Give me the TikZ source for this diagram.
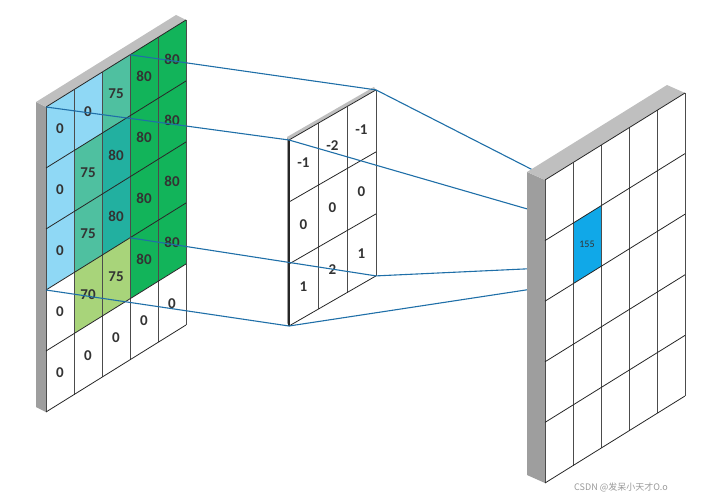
\documentclass[tikz,border=0pt]{standalone}
\usepackage{fontspec}
\setmainfont{Carlito}
\newfontfamily\cjk{Noto Sans CJK SC}
\definecolor{lb}{HTML}{8FD8F5}
\definecolor{mg}{HTML}{4FC0A0}
\definecolor{tl}{HTML}{22B0A0}
\definecolor{dg}{HTML}{12B45A}
\definecolor{lg}{HTML}{A8D47A}
\definecolor{ln}{HTML}{1F6FA8}
\definecolor{cb}{HTML}{10A8E8}
\newcommand\gcell[9]{%
 \pgfmathsetmacro\ax{#1+#6*#3}\pgfmathsetmacro\ay{#2-#6*#4+#7*#5}%
 \pgfmathsetmacro\bx{\ax+#3}\pgfmathsetmacro\by{\ay-#4}%
 \fill[#8] (\ax,\ay)--(\bx,\by)--(\bx,\by+#5)--(\ax,\ay+#5)--cycle;
 \node[num] at ({(\ax+\bx)/2},{(\ay+\by+#5)/2}) {#9};}
% plane: X0 Y0 w s h ncols nrows dx dy
\newcommand\plane[9]{%
 \pgfmathsetmacro\rx{#1+#6*#3}\pgfmathsetmacro\ry{#2-#6*#4}%
 \pgfmathsetmacro\by{#2+#7*#5}%
 \fill[sidegray] (#1,#2)--(#1+#8,#2+#9)--(#1+#8,\by+#9)--(#1,\by)--cycle;
 \fill[topgray] (#1,#2)--(\rx,\ry)--(\rx+#8,\ry+#9)--(#1+#8,#2+#9)--cycle;
 \fill[white] (#1,#2)--(\rx,\ry)--(\rx,\ry+#7*#5)--(#1,\by)--cycle;}
\newcommand\planelines[7]{%
 \foreach \k in {0,...,#6}{\pgfmathsetmacro\xx{#1+\k*#3}\pgfmathsetmacro\yy{#2-\k*#4}
   \draw[vl] (\xx,\yy)--(\xx,\yy+#7*#5);}
 \foreach \k in {0,...,#7}{\pgfmathsetmacro\yy{#2+\k*#5}\pgfmathsetmacro\yr{#2+\k*#5-#6*#4}
   \draw[hl] (#1,\yy)--(#1+#6*#3,\yr);}}
\begin{document}
\begin{tikzpicture}[x=1pt,y=-1pt,
  num/.style={font=\fontsize{15}{15}\selectfont\bfseries, text=black!80},
  sidegray/.style={fill=black!38}, topgray/.style={fill=black!25},
  vl/.style={draw=black!70,line width=0.8pt}, hl/.style={draw=black!85,line width=0.8pt},
  conn/.style={draw=ln,line width=1.1pt}]
\useasboundingbox (0,0) rectangle (710,500);
% left plane
\plane{46}{107}{28}{17.4}{61}{5}{5}{-10}{-5}
\foreach \i/\j/\c/\v in {0/0/lb/0,1/0/lb/0,2/0/mg/75,3/0/dg/80,4/0/dg/80,
 0/1/lb/0,1/1/mg/75,2/1/tl/80,3/1/dg/80,4/1/dg/80,
 0/2/lb/0,1/2/mg/75,2/2/tl/80,3/2/dg/80,4/2/dg/80,
 0/3/white/0,1/3/lg/70,2/3/lg/75,3/3/dg/80,4/3/dg/80,
 0/4/white/0,1/4/white/0,2/4/white/0,3/4/white/0,4/4/white/0}
 {\gcell{46}{107}{28}{17.4}{61}{\i}{\j}{\c}{\v}}
\planelines{46}{107}{28}{17.4}{61}{5}{5}
% kernel
\plane{289}{140}{29}{16.7}{62}{3}{3}{-2}{-3}
\foreach \i/\j/\v in {0/0/-1,1/0/-2,2/0/-1,0/1/0,1/1/0,2/1/0,0/2/1,1/2/2,2/2/1}
 {\gcell{289}{140}{29}{16.7}{62}{\i}{\j}{white}{\v}}
\planelines{289}{140}{29}{16.7}{62}{3}{3}
\draw[line width=2.5pt,black!85] (289,140)--(289,326);
% named points
\coordinate (gTL) at (46,107); \coordinate (gTR) at (130,54.8);
\coordinate (gBR) at (130,237.8); \coordinate (gBL) at (46,290);
\coordinate (kTL) at (289,140); \coordinate (kTR) at (376,89.9);
\coordinate (kBR) at (376,275.9); \coordinate (kBL) at (289,326);
\coordinate (oTL) at (573,222.2); \coordinate (oTR) at (601,204.8);
\coordinate (oBR) at (601,265.4); \coordinate (oBL) at (573,282.8);
\draw[conn] (gTL)--(kTL); \draw[conn] (gTR)--(kTR);
\draw[conn] (gBR)--(kBR); \draw[conn] (gBL)--(kBL);
\draw[conn] (kTL)--(oTL); \draw[conn] (kTR)--(oTR);
\draw[conn] (kBR)--(oBR); \draw[conn] (kBL)--(oBL);
% output plane
\plane{545}{180}{28}{17.4}{60.6}{5}{5}{-18}{-8}
\gcell{545}{180}{28}{17.4}{60.6}{1}{1}{cb}{\fontsize{10}{10}\selectfont\mdseries 155}
\planelines{545}{180}{28}{17.4}{60.6}{5}{5}
\node[text=black!40,font=\cjk\fontsize{9}{9}\selectfont] (wm) at (621,487) {CSDN @发呆小天才O.o};
\end{tikzpicture}
\end{document}
